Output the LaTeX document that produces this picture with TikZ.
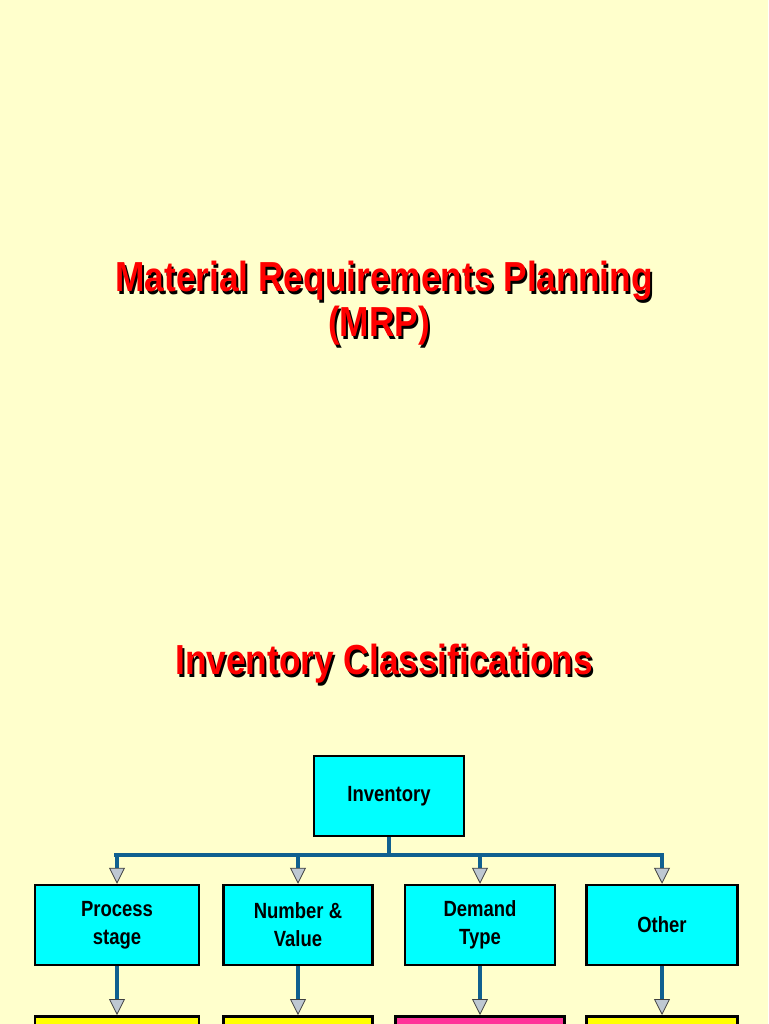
\documentclass[tikz,border=0pt]{standalone}
\usepackage{fontspec}
\setmainfont[FakeStretch=0.84,BoldFont={Liberation Sans Bold}]{Liberation Sans}
\usetikzlibrary{arrows.meta}
\definecolor{bg}{RGB}{255,255,204}
\definecolor{cy}{RGB}{0,255,255}
\definecolor{ye}{RGB}{255,255,0}
\definecolor{pk}{RGB}{255,51,153}
\definecolor{ln}{RGB}{16,96,144}
\definecolor{tipc}{RGB}{190,200,210}
\tikzset{
 box/.style={draw=black, line width=2.5pt, fill=cy, minimum height=80pt, align=center, font=\fontsize{22}{28}\selectfont\bfseries, inner sep=0pt},
 lbox/.style={draw=black, line width=2.5pt, align=center, font=\fontsize{22}{28}\selectfont\bfseries, inner sep=0pt, anchor=north, minimum height=80pt},
 conn/.style={draw=ln, line width=4pt, -{Triangle[length=16pt,width=16pt,fill=tipc,color=black!75,line width=0.8pt]}},
 ttl/.style={font=\fontsize{42}{44}\selectfont\bfseries, align=center},
}
\begin{document}
\begin{tikzpicture}[x=1pt,y=-1pt]
\fill[bg] (0,0) rectangle (768,1024);
\clip (0,0) rectangle (768,1024);
\useasboundingbox (0,0) rectangle (768,1024);
\node[ttl, text=black] (t1s) at (386,284) {Material Requirements Planning};
\node[ttl, text=red] (t1) at (384,281) {Material Requirements Planning};
\node[ttl, text=black] (t2s) at (381,329) {(MRP)};
\node[ttl, text=red] (t2) at (379,326) {(MRP)};
\node[ttl, text=black] (t3s) at (386,667) {Inventory Classifications};
\node[ttl, text=red] (t3) at (384,664) {Inventory Classifications};

\node[box, minimum width=150pt] (inv) at (389,796) {Inventory};
\node[box, minimum width=164pt] (p) at (117,925) {Process\\stage};
\node[box, minimum width=149pt] (n) at (298,925) {Number \&\\Value};
\node[box, minimum width=150pt] (d) at (480,925) {Demand\\Type};
\node[box, minimum width=151pt] (o) at (662,925) {Other};

\node[lbox, fill=ye, minimum width=164pt] (b1) at (117,1015) {\vphantom{A}Raw Materials};
\node[lbox, fill=ye, minimum width=149pt] (b2) at (298,1015) {\vphantom{A}A Items};
\node[lbox, fill=pk, minimum width=169pt] (b3) at (480,1015) {};
\node[lbox, fill=ye, minimum width=151pt] (b4) at (662,1015) {};

\coordinate (bus) at (389,855);
\draw[draw=ln, line width=4pt] (inv.south) -- (bus);
\draw[draw=ln, line width=4pt, line cap=rect] (116,855) -- (662,855);
\foreach \s in {p,n,d,o} \draw[conn] (\s.north |- bus) -- (\s.north);
\foreach \s/\t in {p/b1,n/b2,d/b3,o/b4} \draw[conn] (\s.south) -- (\t.north);
\end{tikzpicture}
\end{document}
